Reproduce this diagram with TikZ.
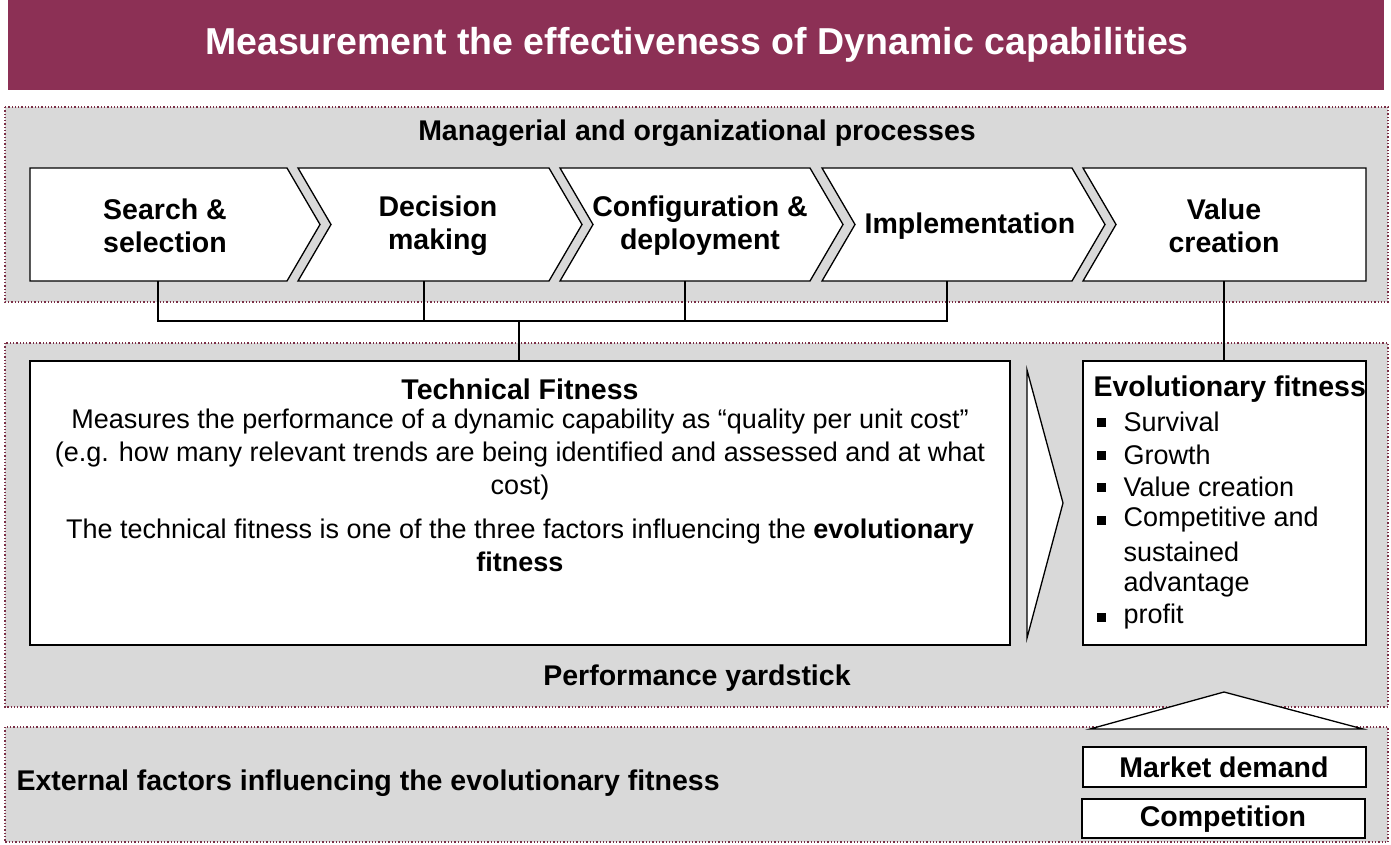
\documentclass[tikz,border=0pt]{standalone}
\usepackage{fontspec}
\setmainfont{Liberation Sans}
\begin{document}
\begin{tikzpicture}[x=1pt,y=-1pt,
  panel/.style={fill=panelgray,draw=dotred,dotted,line width=1.3pt},
  wbox/.style={fill=white,draw=black,line width=1.3pt},
  lbl/.style={font=\fontsize{28.5}{33}\selectfont\bfseries,align=center},
  body/.style={font=\fontsize{27}{33}\selectfont}]
\definecolor{panelgray}{HTML}{D9D9D9}
\definecolor{dotred}{HTML}{7A2E45}
\definecolor{titlered}{HTML}{8C3055}
\useasboundingbox (0,0) rectangle (1391,845);
% title
\fill[titlered] (8,0) rectangle (1384,90);
\node[font=\fontsize{37.5}{40}\selectfont\bfseries,text=white] (title) at (697,45) {Measurement the effectiveness of Dynamic capabilities};
% panels
\draw[panel] (5,107) rectangle (1388,302);
\draw[panel] (5,343) rectangle (1388,707);
\draw[panel] (5,727) rectangle (1388,842);
\node[lbl] (mop) at (697,133) {Managerial and organizational processes};
% chevrons
\draw[wbox] (30,168) -- (287,168) -- (320,224.5) -- (287,281) -- (30,281) -- cycle;
\draw[wbox] (298,168) -- (549,168) -- (582,224.5) -- (549,281) -- (298,281) -- (331,224.5) -- cycle;
\draw[wbox] (560,168) -- (810,168) -- (843,224.5) -- (810,281) -- (560,281) -- (593,224.5) -- cycle;
\draw[wbox] (822,168) -- (1072,168) -- (1105,224.5) -- (1072,281) -- (822,281) -- (855,224.5) -- cycle;
\draw[wbox] (1083,168) -- (1366,168) -- (1366,281) -- (1083,281) -- (1116,224.5) -- cycle;
\node[lbl] (c1) at (165,226) {Search \&\\selection};
\node[lbl] (c2) at (438,226) {Decision\\making};
\node[lbl] (c3) at (700,226) {Configuration \&\\deployment};
\node[lbl] (c4) at (970,226) {Implementation};
\node[lbl] (c5) at (1224,226) {Value\\creation};
% connectors
\coordinate (j) at (519,321);
\draw[line width=1.3pt] (158,281) -- (158,321) -- (947,321) -- (947,281);
\draw[line width=1.3pt] (424,281) -- (424,321);
\draw[line width=1.3pt] (685,281) -- (685,321);
\draw[line width=1.3pt] (j) -- (519,361);
\draw[line width=1.3pt] (1224,281) -- (1224,361);
% tech box
\draw[wbox] (30,361) rectangle (1010,645);
\node[lbl] (tf) at (520,389) {Technical Fitness};
\node[body,align=center] (tft) at (520,455) {Measures the performance of a dynamic capability as “quality per unit cost”\\(e.g. how many relevant trends are being identified and assessed and at what\\cost)};
\node[body,align=center] (tft2) at (520,545.5) {The technical fitness is one of the three factors influencing the \textbf{evolutionary}\\\textbf{fitness}};
% arrow triangle
\draw[wbox] (1027,370) -- (1063,503) -- (1027,638) -- cycle;
% evolutionary box
\draw[wbox] (1083,361) rectangle (1366,645);
\node[lbl,anchor=west] (ef) at (1090,389) {Evolutionary fitness};
\foreach \y/\t in {422/Survival,454.5/Growth,487/Value creation,519.5/Competitive and,552/sustained,584.5/advantage,617/profit}{
  \node[body,anchor=west] at (1120,\y) {\t};
}
\foreach \y in {422,454.5,487,519.5,617}{\fill (1097,\y-4) rectangle (1106,\y+5);}
\node[lbl] (py) at (697,678) {Performance yardstick};
% bottom
\draw[wbox] (1090,729) -- (1224,692) -- (1363,729) -- cycle;
\node[lbl,anchor=west] (ext) at (13,783) {External factors influencing the evolutionary fitness};
\draw[wbox] (1083,747) rectangle (1366,787);
\node[lbl] (md) at (1224,767) {Market demand};
\draw[wbox] (1082,799) rectangle (1365,838);
\node[lbl] (comp) at (1223,819) {Competition};
\end{tikzpicture}
\end{document}
